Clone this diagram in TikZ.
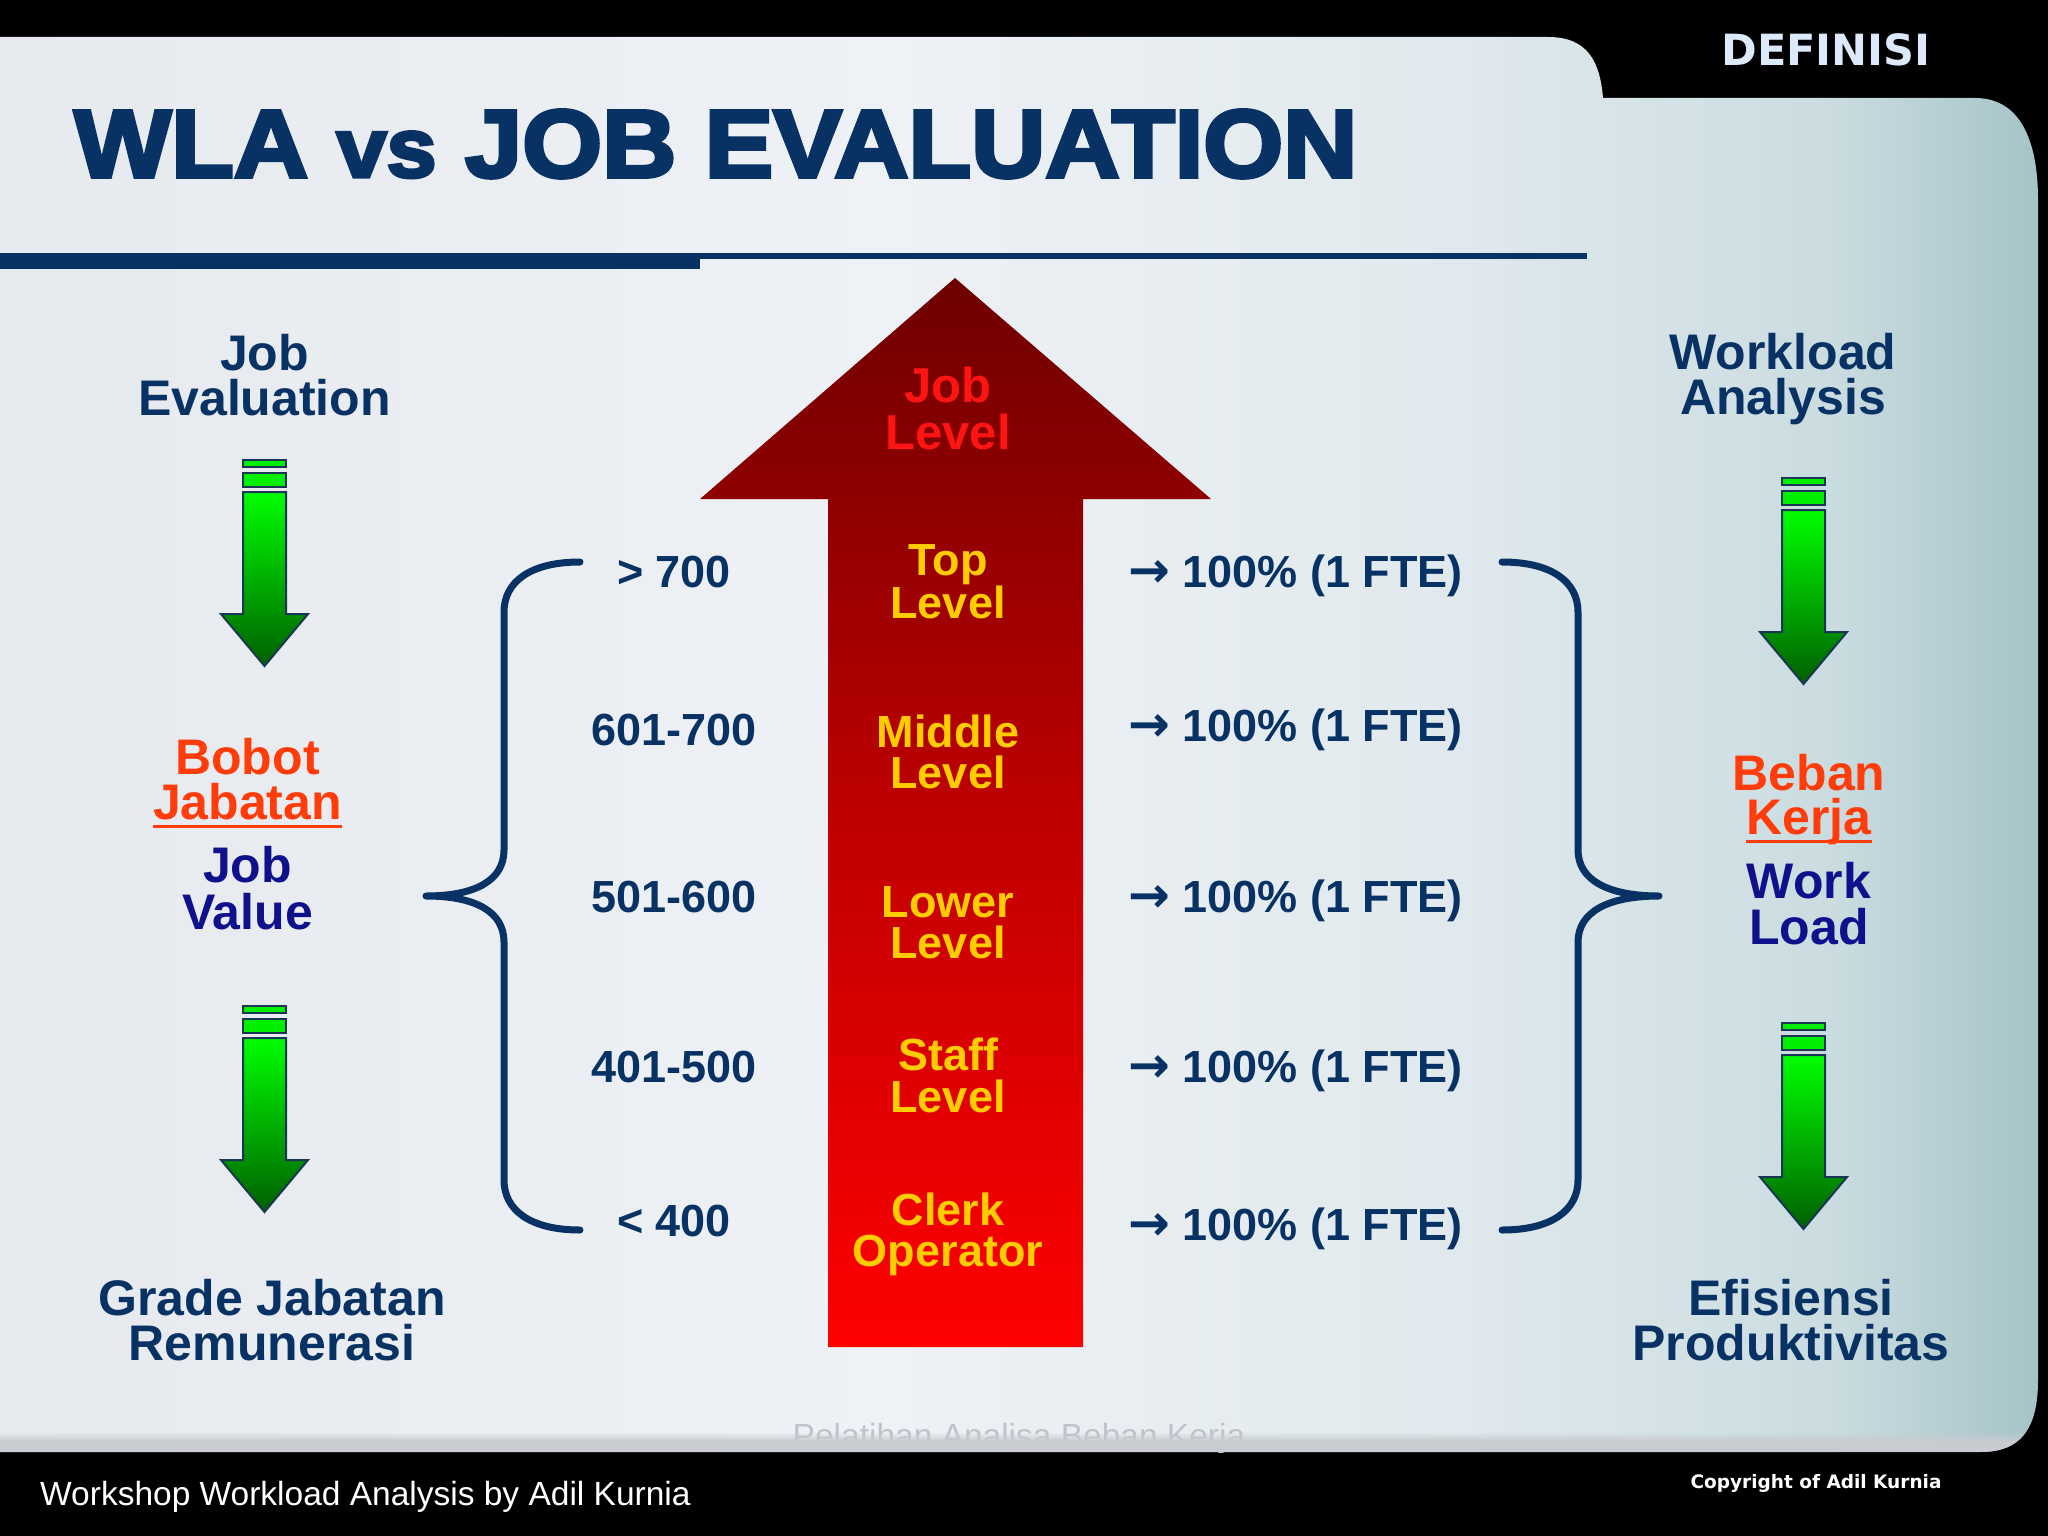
\documentclass[tikz,border=0pt]{standalone}
\usepackage{fontspec}
\usetikzlibrary{fadings}
\setmainfont{Liberation Sans}
\newfontfamily\titlefont[FakeBold=4,FakeStretch=1.07]{Liberation Sans Bold}
\newfontfamily\dvfont{DejaVu Sans}
\newcommand\psz[1]{\fontsize{#1}{#1}\selectfont}
\newcommand\fteArrow{{\dvfont\bfseries\psz{50}→}}
\definecolor{cNavy}{RGB}{8,50,100}
\definecolor{cBlue}{RGB}{14,16,140}
\definecolor{cOrange}{RGB}{255,60,10}
\definecolor{cGold}{RGB}{255,204,0}
\definecolor{cRedTxt}{RGB}{255,20,20}
\definecolor{cMaroon}{RGB}{110,0,0}
\definecolor{cMid}{RGB}{190,0,0}
\definecolor{cRed}{RGB}{255,0,0}
\definecolor{gTop}{RGB}{0,255,0}
\definecolor{gBot}{RGB}{0,95,0}
\definecolor{gStripe}{RGB}{0,238,0}
\definecolor{gLine}{RGB}{25,55,85}
\definecolor{cDef}{RGB}{220,233,250}
\definecolor{cWater}{RGB}{192,196,202}
\definecolor{cBand}{RGB}{200,204,209}
\definecolor{pA}{RGB}{230,233,238}
\definecolor{pB}{RGB}{238,241,245}
\definecolor{pC}{RGB}{224,233,237}
\definecolor{pD}{RGB}{202,220,224}
\definecolor{pE}{RGB}{165,195,200}
\pgfdeclarehorizontalshading{panelsh}{100bp}{color(0bp)=(pA); color(25bp)=(pA); color(47bp)=(pB); color(61bp)=(pC); color(70bp)=(pD); color(75bp)=(pE); color(100bp)=(pE)}
\begin{document}
\begin{tikzpicture}[x=1pt,y=-1pt,
  txt/.style={inner sep=0pt, anchor=base, font=\bfseries\psz{50}},
  hd/.style={txt, text=cNavy},
  orng/.style={txt, text=cOrange},
  blu/.style={txt, text=cBlue},
  lvl/.style={txt, text=cGold, font=\bfseries\psz{45}},
  num/.style={txt, text=cNavy, font=\bfseries\psz{45}},
  fte/.style={txt, anchor=base west, text=cNavy, font=\bfseries\psz{45}},
  brace/.style={draw=cNavy, line width=7pt, line cap=round, line join=round},
  gline/.style={draw=gLine, line width=2pt},
  garrow/.pic={
    \filldraw[gline, fill=gStripe] (-21.5,0) rectangle (21.5,7);
    \filldraw[gline, fill=gStripe] (-21.5,13) rectangle (21.5,27);
    \draw[gline, top color=gTop, bottom color=gBot] (-21.5,32) -- (-21.5,154) -- (-43.5,154) -- (0,206) -- (43.5,154) -- (21.5,154) -- (21.5,32) -- cycle;
  }]
\useasboundingbox (0,0) rectangle (2048,1536);
\fill[black] (0,0) rectangle (2048,1536);
% panel
\def\panelpath{(0,37) -- (1548,37) .. controls (1588,37) and (1600,62) .. (1603,98) -- (1975,98) .. controls (2020,98) and (2038,140) .. (2038,200) -- (2038,1380) .. controls (2038,1430) and (2020,1452) .. (1980,1452) -- (0,1452) -- cycle}
\shade[shading=panelsh] \panelpath;
\begin{scope}
  \clip \panelpath;
  \node[inner sep=0pt, anchor=base, text=cWater, font=\psz{33.5}] (water) at (1019,1447) {Pelatihan Analisa Beban Kerja};
  \fill[cBand, path fading=north] (0,1432) rectangle (2048,1441);
  \fill[cBand] (0,1441) rectangle (2048,1452);
\end{scope}
% header
\node[inner sep=0pt, anchor=base, text=cDef, font=\dvfont\bfseries\psz{43}] (defn) at (1826,66) {DEFINISI};
\node[inner sep=0pt, anchor=base west, text=cNavy, font=\titlefont\psz{96}] (title) at (74,177) {WLA {\psz{84}vs} JOB EVALUATION};
\fill[cNavy] (0,253) rectangle (700,269);
\fill[cNavy] (700,253) rectangle (1587,259);
% footer
\node[inner sep=0pt, anchor=base west, text=white, font=\psz{33.5}] (foot) at (40,1505) {Workshop Workload Analysis by Adil Kurnia};
\node[inner sep=0pt, anchor=base, text=white, font=\dvfont\bfseries\psz{18.5}] (copy) at (1816,1488) {Copyright of Adil Kurnia};
% central arrow
\draw[draw=none, top color=cMaroon, bottom color=cRed, middle color=cMid] (828,1347) -- (828,499) -- (700,499) -- (955,278) -- (1211,499) -- (1083,499) -- (1083,1347) -- cycle;
\node[txt, text=cRedTxt, font=\bfseries\psz{49}] (jl1) at (948,402) {Job};
\node[txt, text=cRedTxt, font=\bfseries\psz{49}] (jl2) at (948,449) {Level};
\node[lvl] (t1) at (948,575) {Top};
\node[lvl] (t2) at (948,618) {Level};
\node[lvl] (m1) at (948,747) {Middle};
\node[lvl] (m2) at (948,788) {Level};
\node[lvl] (l1) at (948,917) {Lower};
\node[lvl] (l2) at (948,958) {Level};
\node[lvl] (s1) at (948,1070) {Staff};
\node[lvl] (s2) at (948,1112) {Level};
\node[lvl] (c1) at (948,1225) {Clerk};
\node[lvl] (c2) at (948,1266) {Operator};
% numbers
\node[num] (n1) at (674,587) {> 700};
\node[num] (n2) at (674,745) {601-700};
\node[num] (n3) at (674,912) {501-600};
\node[num] (n4) at (674,1082) {401-500};
\node[num] (n5) at (674,1236) {< 400};
% FTE
\node[fte] (f1) at (1128,587) {\fteArrow\ 100\% (1 FTE)};
\node[fte] (f2) at (1128,741) {\fteArrow\ 100\% (1 FTE)};
\node[fte] (f3) at (1128,912) {\fteArrow\ 100\% (1 FTE)};
\node[fte] (f4) at (1128,1082) {\fteArrow\ 100\% (1 FTE)};
\node[fte] (f5) at (1128,1240) {\fteArrow\ 100\% (1 FTE)};
% braces
\draw[brace] (580,562) .. controls (530,562) and (504,582) .. (504,612) -- (504,850) .. controls (504,880) and (476,896) .. (426,896) .. controls (476,896) and (504,912) .. (504,942) -- (504,1180) .. controls (504,1210) and (530,1230) .. (580,1230);
\draw[brace] (1502,562) .. controls (1552,562) and (1578,582) .. (1578,612) -- (1578,850) .. controls (1578,880) and (1608,896) .. (1659,896) .. controls (1608,896) and (1578,912) .. (1578,942) -- (1578,1180) .. controls (1578,1210) and (1552,1230) .. (1502,1230);
% left column
\node[hd] (je1) at (264.5,370) {Job};
\node[hd] (je2) at (264.5,415) {Evaluation};
\pic at (264.5,460) {garrow};
\node[orng] (bj1) at (247.5,774) {Bobot};
\node[orng] (bj2) at (247.5,819) {Jabatan};
\draw[cOrange, line width=3pt] ([yshift=-7pt]bj2.base west) -- ([yshift=-7pt]bj2.base east);
\node[blu] (jv1) at (247.5,882) {Job};
\node[blu] (jv2) at (247.5,929) {Value};
\pic at (264.5,1006) {garrow};
\node[hd] (gj1) at (272,1315) {Grade Jabatan};
\node[hd] (gj2) at (272,1360) {Remunerasi};
% right column
\node[hd] (wa1) at (1783,369) {Workload};
\node[hd] (wa2) at (1783,414) {Analysis};
\pic at (1803.5,478) {garrow};
\node[orng] (bk1) at (1809,790) {Beban};
\node[orng] (bk2) at (1809,834) {Kerja};
\draw[cOrange, line width=3pt] ([yshift=-7pt]bk2.base west) -- ([yshift=-7pt]bk2.base east);
\node[blu] (wl1) at (1809,898) {Work};
\node[blu] (wl2) at (1809,944) {Load};
\pic at (1803.5,1023) {garrow};
\node[hd] (ep1) at (1791,1315) {Efisiensi};
\node[hd] (ep2) at (1791,1360) {Produktivitas};
\end{tikzpicture}
\end{document}
